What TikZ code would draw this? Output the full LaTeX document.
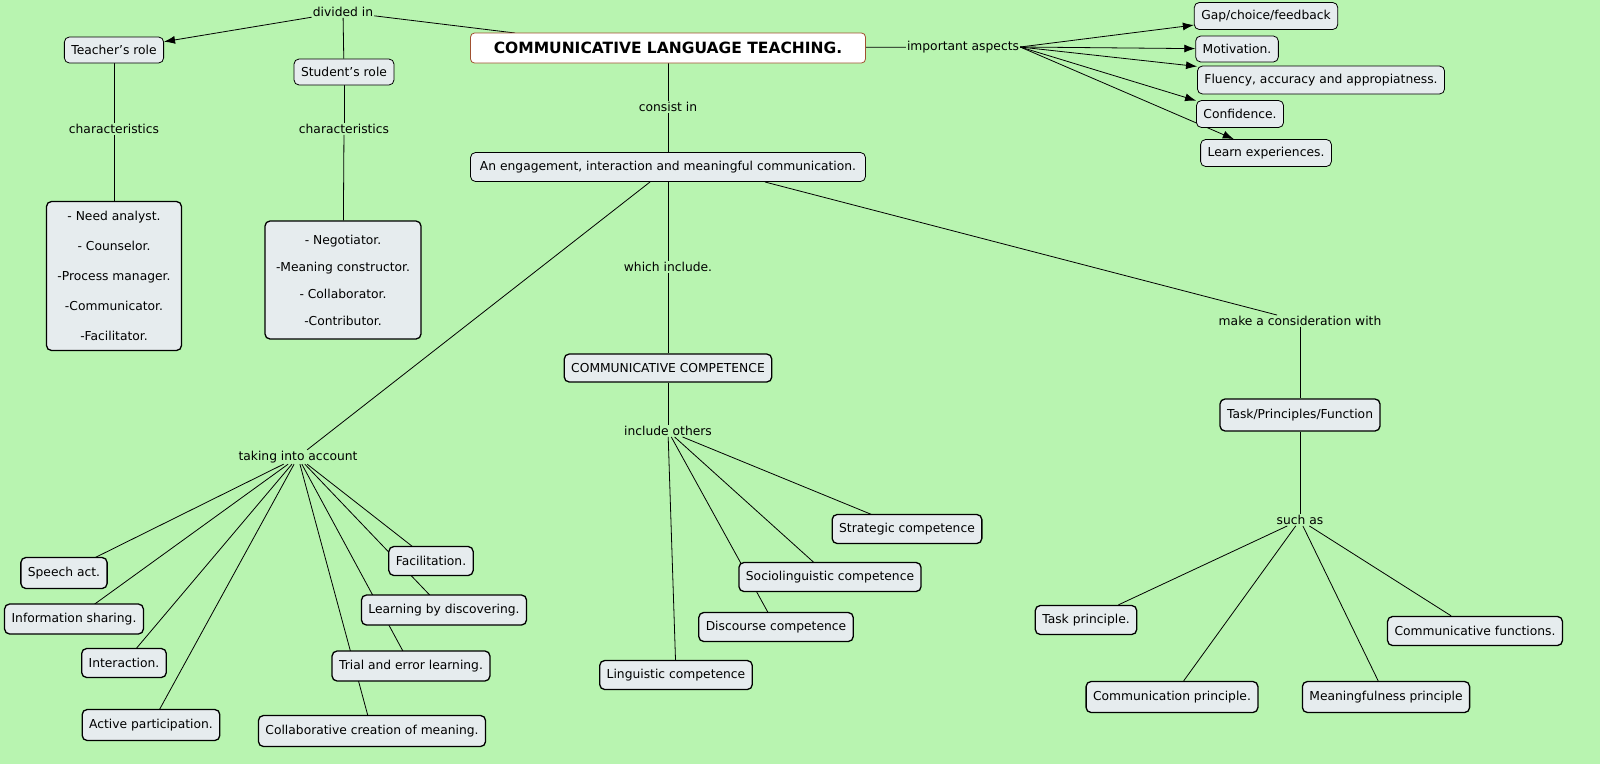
\documentclass[tikz,border=0pt]{standalone}
\usepackage{fontspec}
\setmainfont{DejaVu Sans}
\usetikzlibrary{arrows.meta}
\definecolor{bg}{HTML}{B8F4B0}
\definecolor{boxf}{HTML}{E6ECEE}
\definecolor{tb}{HTML}{A05030}
\pgfdeclarelayer{bgfill}
\pgfdeclarelayer{lines}
\pgfsetlayers{bgfill,lines,main}
\begin{document}
\begin{tikzpicture}[x=1pt,y=-1pt,
  every node/.style={font=\fontsize{12.3}{14}\selectfont},
  bx/.style={draw=black,line width=1.3pt,fill=boxf,rounded corners=5pt,minimum height=29pt,inner xsep=7pt},
  lb/.style={inner sep=1pt},
  ln/.style={line width=0.8pt},
  ar/.style={line width=0.8pt,-{Latex[length=11pt,width=8pt]}}]
\begin{pgfonlayer}{bgfill}
\fill[bg] (0,0) rectangle (1600,764);
\end{pgfonlayer}
\useasboundingbox (0,0) rectangle (1600,764);
\node[draw=tb,line width=0.8pt,fill=white,rounded corners=4pt,minimum width=395pt,minimum height=30pt,font=\fontsize{15.5}{17}\selectfont\bfseries] (title) at (668,48) {COMMUNICATIVE LANGUAGE TEACHING.};
\node[lb] (div) at (343,12) {divided in};
\node[bx,line width=0.8pt,minimum height=26pt] (teach) at (114,50) {Teacher's role};
\node[bx,line width=0.8pt,minimum height=26pt] (stud) at (344,72) {Student's role};
\node[lb] (ch1) at (114,129) {characteristics};
\node[lb] (ch2) at (344,129) {characteristics};
\node[bx,align=center,minimum width=135pt,minimum height=149pt,font=\fontsize{12.3}{30}\selectfont] (tl) at (114,276) {- Need analyst.\\- Counselor.\\-Process manager.\\-Communicator.\\-Facilitator.};
\node[bx,align=center,minimum width=156pt,minimum height=118pt,font=\fontsize{12.3}{27}\selectfont] (sl) at (343,280) {- Negotiator.\\-Meaning constructor.\\- Collaborator.\\-Contributor.};
\node[lb] (imp) at (963,47) {important aspects};
\node[bx,line width=0.8pt,minimum height=27pt] (g1) at (1266,16) {Gap/choice/feedback};
\node[bx,line width=0.8pt,minimum height=26pt] (g2) at (1237,49) {Motivation.};
\node[bx,line width=0.8pt,minimum height=28pt] (g3) at (1321,80) {Fluency, accuracy and appropiatness.};
\node[bx,line width=0.8pt,minimum height=27pt] (g4) at (1240,114) {Confidence.};
\node[bx,line width=0.8pt,minimum height=27pt] (g5) at (1266,153) {Learn experiences.};
\node[lb] (cons) at (668,107) {consist in};
\node[bx,line width=0.8pt,minimum width=395pt] (eng) at (668,167) {An engagement, interaction and meaningful communication.};
\node[lb] (wi) at (668,267) {which include.};
\node[bx,minimum height=28pt] (cc) at (668,368) {COMMUNICATIVE COMPETENCE};
\node[lb] (io) at (668,431) {include others};
\node[bx] (c1) at (907,529) {Strategic competence};
\node[bx] (c2) at (830,577) {Sociolinguistic competence};
\node[bx] (c3) at (776,627) {Discourse competence};
\node[bx] (c4) at (676,675) {Linguistic competence};
\node[lb] (mc) at (1300,321) {make a consideration with};
\node[bx,minimum height=32pt] (tpf) at (1300,415) {Task/Principles/Function};
\node[lb] (sa) at (1300,520) {such as};
\node[bx] (p1) at (1086,620) {Task principle.};
\node[bx,minimum height=31pt] (p2) at (1172,697) {Communication principle.};
\node[bx,minimum height=31pt] (p3) at (1386,697) {Meaningfulness principle};
\node[bx] (p4) at (1475,631) {Communicative functions.};
\node[lb] (ta) at (298,457) {taking into account};
\node[bx,minimum height=31pt] (t1) at (64,573) {Speech act.};
\node[bx,minimum height=30pt] (t2) at (74,619) {Information sharing.};
\node[bx] (t3) at (124,663) {Interaction.};
\node[bx,minimum height=31pt] (t4) at (151,725) {Active participation.};
\node[bx,minimum height=31pt] (t5) at (372,731) {Collaborative creation of meaning.};
\node[bx,minimum height=30pt] (t6) at (411,666) {Trial and error learning.};
\node[bx,minimum height=30pt] (t7) at (444,610) {Learning by discovering.};
\node[bx,minimum height=29pt] (t8) at (431,561) {Facilitation.};
\coordinate (engL) at (650,182);
\coordinate (engR) at (765,182);
\coordinate (titTL) at (515,33);
\begin{pgfonlayer}{lines}
\draw[ln] (titTL) -- (div);
\draw[ar] (div) -- (teach);
\draw[ln] (div) -- (stud);
\draw[ln] (teach) -- (ch1); \draw[ln] (ch1) -- (tl);
\draw[ln] (stud) -- (ch2); \draw[ln] (ch2) -- (sl);
\draw[ln] (title) -- (imp);
\foreach \g in {g1,g2,g3,g4,g5} \draw[ar] (imp.east) -- (\g);
\draw[ln] (title) -- (cons); \draw[ln] (cons) -- (eng);
\draw[ln] (eng) -- (wi); \draw[ln] (wi) -- (cc);
\draw[ln] (cc) -- (io);
\foreach \c in {c1,c2,c3,c4} \draw[ln] (io) -- (\c.center);
\draw[ln] (engR) -- (mc);
\draw[ln] (mc) -- (tpf); \draw[ln] (tpf) -- (sa);
\foreach \p in {p1,p2,p3,p4} \draw[ln] (sa) -- (\p);
\draw[ln] (engL) -- (ta);
\foreach \t in {t1,t2,t3,t4,t5,t6,t7,t8} \draw[ln] (ta) -- (\t.center);
\end{pgfonlayer}
\end{tikzpicture}
\end{document}
